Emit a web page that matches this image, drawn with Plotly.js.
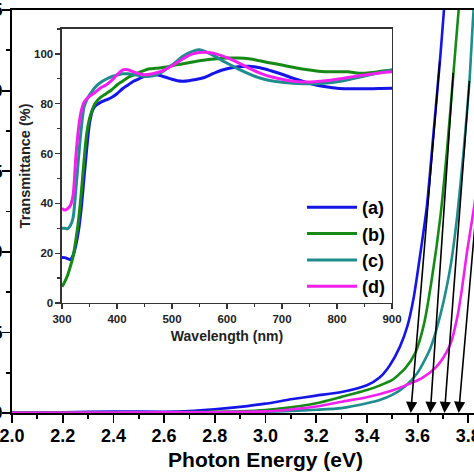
<!DOCTYPE html>
<html>
<head>
<meta charset="utf-8">
<script src="https://cdn.plot.ly/plotly-3.0.1.min.js"></script>
<style>
  html, body { margin: 0; padding: 0; overflow: hidden; background: #fff; }
  #chart { width: 540px; height: 474px; }
</style>
</head>
<body>
<div id="chart"></div>
<script>
// ---- Tauc plot: (alpha h nu)^2 versus photon energy ----
const energyA = [2.0, 2.2, 2.4, 2.6, 2.7, 2.8, 2.9, 3.0, 3.1, 3.2, 3.3, 3.4, 3.45, 3.49, 3.53, 3.56, 3.585, 3.61, 3.637, 3.663, 3.69, 3.705, 3.72];
const taucA   = [0.02, 0.05, 0.09, 0.08, 0.12, 0.23, 0.38, 0.58, 0.85, 1.08, 1.3, 1.72, 2.2, 2.95, 4.1, 5.4, 7.2, 9.8, 12.9, 17.4, 22.2, 25.2, 28];

const energyB = [2.0, 2.4, 2.6, 2.8, 2.9, 3.0, 3.1, 3.2, 3.3, 3.4, 3.45, 3.5, 3.55, 3.59, 3.625, 3.655, 3.69, 3.716, 3.742, 3.762, 3.78];
const taucB   = [0.02, 0.05, 0.05, 0.07, 0.1, 0.18, 0.35, 0.6, 1.0, 1.42, 1.7, 2.05, 2.75, 3.7, 5.5, 8.2, 12.2, 16.3, 21.2, 25, 28];

const energyC = [2.0, 2.4, 2.8, 3.0, 3.1, 3.2, 3.3, 3.4, 3.45, 3.5, 3.55, 3.6, 3.65, 3.69, 3.73, 3.756, 3.782, 3.805, 3.821, 3.84];
const taucC   = [0.02, 0.03, 0.04, 0.08, 0.13, 0.2, 0.3, 0.6, 0.8, 1.12, 1.65, 2.5, 4.0, 6.1, 9.1, 12.2, 16.3, 20.7, 25, 28];

const energyD = [2.0, 2.4, 2.8, 3.0, 3.1, 3.2, 3.3, 3.4, 3.5, 3.57, 3.62, 3.67, 3.70, 3.73, 3.756, 3.775, 3.795, 3.823, 3.85];
const taucD   = [0.02, 0.03, 0.05, 0.1, 0.22, 0.4, 0.7, 0.98, 1.4, 1.82, 2.2, 2.8, 3.4, 4.3, 5.9, 7.7, 10.0, 12.8, 16];

// tangent extrapolations: band-gap intercepts and upper end of each tangent
const gapEnergy   = [3.573, 3.650, 3.706, 3.762];
const tangentTopE = [3.688, 3.741, 3.805, 3.876];
const tangentTopY = [21.9, 21.2, 20.7, 20.7];

// ---- Inset: optical transmittance spectra ----
const wavelength = [300, 305, 310, 315, 320, 325, 330, 335, 340, 345, 350, 355, 360, 370, 380, 390, 400, 410, 420, 430, 440, 450, 460, 470, 480, 490, 500, 510, 520, 530, 540, 550, 560, 570, 580, 590, 600, 620, 640, 660, 680, 700, 720, 740, 760, 780, 800, 820, 840, 860, 880, 900];
const transA = [18.3, 18.2, 17.8, 17.4, 19, 23, 29, 38, 50, 62, 72, 77, 79, 80.5, 81.5, 82.5, 84, 86, 87.5, 89, 90, 91, 91.5, 91.6, 91.2, 90.5, 89.8, 89.2, 89, 89.2, 89.6, 90, 90.6, 91.6, 92.6, 93.4, 94, 94.8, 95, 94.4, 93.2, 91.8, 90.2, 88.8, 87.6, 86.8, 86.2, 86, 86, 86, 86.1, 86.2];
const transB = [6.5, 8.5, 11, 14.5, 18.5, 25, 33, 44, 57, 68, 74, 77.5, 80, 82.5, 84, 85.5, 87.5, 89, 90.5, 91.5, 92.5, 93.4, 94, 94.2, 94.4, 94.7, 95.2, 95.7, 96, 96.4, 96.8, 97.2, 97.5, 97.8, 98, 98.2, 98.3, 98.3, 98, 97.2, 96.3, 95.5, 94.6, 93.8, 93.2, 92.8, 92.8, 92.8, 92.2, 92.4, 93, 93.5];
const transC = [30, 30, 29.8, 31, 34, 45, 58, 70, 78.5, 81.5, 83.5, 85, 86.5, 88.5, 89.8, 90.8, 91.5, 92, 92, 91.7, 91.3, 91, 91, 91.5, 92.5, 94, 95.5, 97.3, 99, 100.3, 101.2, 101.6, 101, 100, 98.8, 97.5, 96.3, 94, 92, 90.3, 89.2, 88.6, 88.2, 88, 88, 88.3, 88.8, 89.6, 90.6, 91.6, 92.6, 93.5];
const transD = [38, 37.3, 37.8, 39, 43, 58, 70, 77, 80.5, 82, 83, 83.7, 84.5, 86.3, 87.5, 89.3, 91.5, 93.5, 93.6, 92.8, 92, 91.6, 91.8, 92.3, 93, 94, 95.2, 96.6, 98, 99.3, 100.1, 100.5, 100.6, 100.4, 100, 99.3, 98.5, 96.5, 94.3, 92.3, 90.8, 89.8, 89, 88.7, 88.8, 89.2, 89.8, 90.5, 91.2, 91.8, 92.4, 92.8];

const sampleNames = ['(a)', '(b)', '(c)', '(d)'];
const sampleColors = ['#1515e8', '#168a16', '#1f8d8d', '#f020ee'];

const FONT = 'Liberation Sans, Arial, Helvetica, sans-serif';

const mainX = [energyA, energyB, energyC, energyD];
const mainY = [taucA, taucB, taucC, taucD];
const insetY = [transA, transB, transC, transD];

const traces = [];
for (let i = 0; i < 4; i++) {
  traces.push({
    x: mainX[i], y: mainY[i], type: 'scatter', mode: 'lines',
    line: { color: sampleColors[i], width: 2.6, shape: 'spline', smoothing: 0.6 },
    showlegend: false, hoverinfo: 'skip', xaxis: 'x', yaxis: 'y'
  });
}
for (let i = 0; i < 4; i++) {
  traces.push({
    x: wavelength, y: insetY[i], type: 'scatter', mode: 'lines', name: sampleNames[i],
    legendgroup: 'g' + i,
    line: { color: sampleColors[i], width: 3, shape: 'spline', smoothing: 0.8 },
    xaxis: 'x2', yaxis: 'y2', hoverinfo: 'skip'
  });
}

const annotations = gapEnergy.map((e, i) => ({
  x: e, y: 0, xref: 'x', yref: 'y',
  ax: tangentTopE[i], ay: tangentTopY[i], axref: 'x', ayref: 'y',
  text: '', showarrow: true, arrowhead: 2, arrowsize: 1.4, arrowwidth: 1.6,
  arrowcolor: '#000', standoff: 0
}));

const boldFont = (size, color) => ({ family: FONT, size: size, color: color || '#000', weight: 'bold' });

const layout = {
  width: 540, height: 474,
  margin: { l: 12, r: 21, t: 10, b: 61 },
  paper_bgcolor: '#fff', plot_bgcolor: 'rgba(0,0,0,0)',
  showlegend: true,
  legend: {
    x: 0.572, y: 0.556, xanchor: 'left', yanchor: 'top',
    bgcolor: 'rgba(0,0,0,0)', borderwidth: 0,
    font: boldFont(18), itemwidth: 50, tracegroupgap: 0,
    itemclick: false, itemdoubleclick: false
  },
  xaxis: {
    domain: [0, 1], range: [2.0, 4.0], dtick: 0.2, tick0: 2.0, tickformat: '.1f',
    showline: true, linecolor: '#000', linewidth: 2, mirror: true,
    ticks: 'outside', ticklen: 8, tickwidth: 1.8, tickcolor: '#000',
    minor: { dtick: 0.1, ticks: 'outside', ticklen: 4, tickwidth: 1.8, tickcolor: '#000' },
    showgrid: false, zeroline: false,
    ticklabeloverflow: 'allow', ticklabelstandoff: -3,
    tickfont: boldFont(18),
    title: { text: 'Photon Energy (eV)', font: boldFont(21), standoff: 8 }
  },
  yaxis: {
    domain: [0, 1], range: [0, 25], dtick: 5,
    showline: true, linecolor: '#000', linewidth: 2, mirror: true,
    ticks: 'outside', ticklen: 8, tickwidth: 1.8, tickcolor: '#000',
    minor: { dtick: 2.5, ticks: 'outside', ticklen: 4, tickwidth: 1.8, tickcolor: '#000' },
    showgrid: false, zeroline: false,
    ticklabeloverflow: 'allow', ticklabelstandoff: -4,
    tickfont: boldFont(18)
  },
  xaxis2: {
    domain: [0.0986, 0.7495], anchor: 'y2', range: [300, 900], dtick: 100,
    showline: true, linecolor: '#333', linewidth: 1.5, mirror: true,
    ticks: 'outside', ticklen: 5, tickwidth: 1.3, tickcolor: '#333',
    minor: { dtick: 50, ticks: 'outside', ticklen: 3, tickwidth: 1.3, tickcolor: '#333' },
    showgrid: false, zeroline: false,
    tickfont: boldFont(11.5, '#222'),
    title: { text: 'Wavelength (nm)', font: boldFont(14, '#222'), standoff: 7 }
  },
  yaxis2: {
    domain: [0.273, 0.953], anchor: 'x2', range: [0, 110], dtick: 20,
    showline: true, linecolor: '#333', linewidth: 1.5, mirror: true,
    ticks: 'outside', ticklen: 5, tickwidth: 1.3, tickcolor: '#333',
    minor: { dtick: 10, ticks: 'outside', ticklen: 3, tickwidth: 1.3, tickcolor: '#333' },
    showgrid: false, zeroline: false,
    tickfont: boldFont(11.5, '#222'),
    title: { text: 'Transmittance (%)', font: boldFont(14.5, '#222'), standoff: 0 }
  },
  annotations: annotations
};

Plotly.newPlot('chart', traces, layout, { displayModeBar: false, staticPlot: true });
</script>
</body>
</html>
